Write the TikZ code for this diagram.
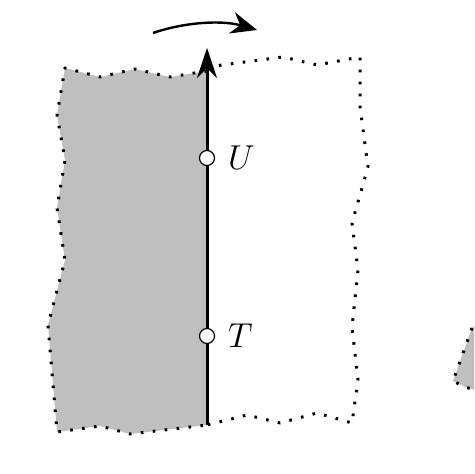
\documentclass[tikz,border=0pt]{standalone}
\usetikzlibrary{arrows.meta}
\begin{document}
\begin{tikzpicture}[x=0.5pt,y=-0.5pt,font=\fontsize{17}{20}\selectfont, line join=round, >={Stealth[length=15pt,width=10pt]}]
				%%Khung hinh
				\useasboundingbox (0,0) rectangle (474,474);
				\clip (0,0) rectangle (474,474);
				\tikzset{bien/.style={line width=1.5pt,dash pattern=on 1.3pt off 4.7pt},
					diem/.style={circle,draw,fill=white,inner sep=0pt,minimum size=7.5pt,line width=0.6pt}}
				\def \mau{black!25}
				%%Mien ben trai
				\fill[\mau] (207,71)--(170,77)--(135,69)--(100,77)--(65,68)--(57,115)--(65,160)--(57,208)--(65,260)--(48,325)--(57,432)--(100,426)--(130,434)--(207,425)--cycle;
				\draw[bien] (207,71)--(170,77)--(135,69)--(100,77)--(65,68)--(57,115)--(65,160)--(57,208)--(65,260)--(48,325)--(57,432)--(100,426)--(130,434)--(207,425);
				%%Mien ben phai
				\draw[bien] (207,67)--(245,62)--(283,57)--(317,65)--(360,57)--(360,107)--(368,167)--(352,223)--(358,270)--(352,327)--(358,380)--(352,423)--(317,413)--(280,423)--(247,415)--(207,425);
				%%Manh o goc
				\fill[\mau] (482,316)--(472,328)--(453,381)--(465,387)--(482,392)--cycle;
				\draw[bien] (472,328)--(453,381)--(465,387)--(482,392);
				%%Duong thang va cac diem
				\coordinate (duoi) at (207,425);
				\coordinate (tren) at (207,48);
				\draw[->,line width=1.5pt] (duoi)--(tren);
				\node[diem,label={[label distance=3pt]right:$U$}] (U) at (207,158) {};
				\node[diem,label={[label distance=3pt]right:$T$}] (T) at (207,336) {};
				%%Mui ten cong
				\coordinate (dau) at (153,33);
				\coordinate (cuoi) at (257,30);
				\draw[->,line width=1.2pt,>={Stealth[length=13pt,width=11pt]}] (dau) .. controls (185,22) and (222,20) .. (cuoi);
			\end{tikzpicture}
\end{document}
